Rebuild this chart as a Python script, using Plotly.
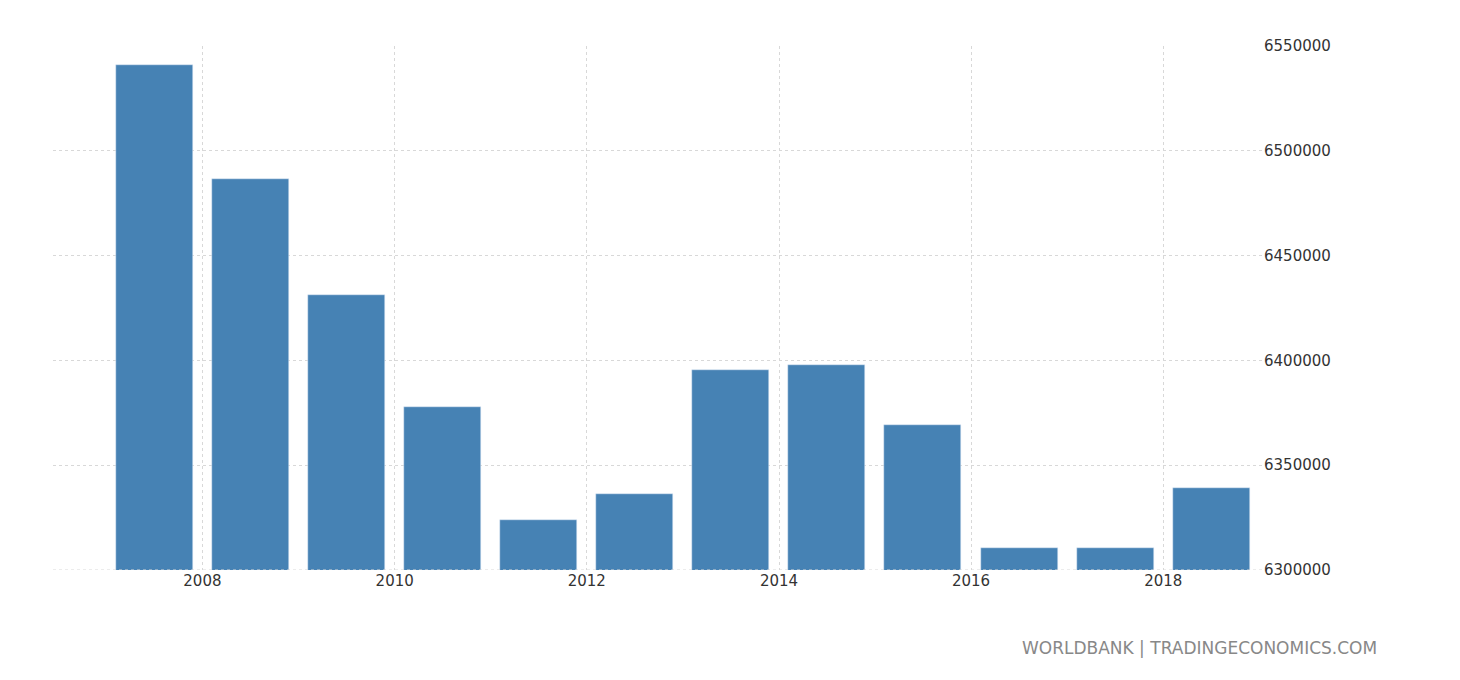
import plotly.graph_objects as go

years = [2007, 2008, 2009, 2010, 2011, 2012, 2013, 2014, 2015, 2016, 2017, 2018]
values = [6540900, 6486500, 6431200, 6377800, 6323900, 6336300,
          6395400, 6397800, 6369200, 6310500, 6310500, 6339100]
tick_years = [2008, 2010, 2012, 2014, 2016, 2018]

# bars sit mid-year, ticks sit on Jan 1
dates = [f"{y}-07-02" for y in years]
year_ms = 365.25 * 86400000

fig = go.Figure(go.Bar(x=dates, y=values, marker_color="#4682B4",
                       width=0.8 * year_ms, hoverinfo="x+y"))

fig.update_layout(
    width=1460, height=680,
    margin=dict(l=45, r=205, t=38, b=118),
    plot_bgcolor="white", paper_bgcolor="white",
    font=dict(family="DejaVu Sans", size=15, color="#333"),
    showlegend=False,
    xaxis=dict(type="date", range=["2006-06-12", "2019-01-15"],
               tickvals=[f"{y}-01-01" for y in tick_years],
               ticktext=[str(y) for y in tick_years],
               showgrid=True, gridcolor="#d8d8d8", griddash="dot",
               showline=False, ticks=""),
    yaxis=dict(side="right", range=[6300000, 6550000], dtick=50000,
               tickformat="d", showgrid=True, gridcolor="#d8d8d8",
               griddash="dot", zeroline=False, ticks="", ticklen=0),
    bargap=0,
)
fig.add_shape(type="line", xref="paper", yref="y", x0=0, x1=1,
              y0=6300000, y1=6300000, line=dict(color="#d8d8d8", dash="dot", width=1))
fig.add_annotation(text="WORLDBANK | TRADINGECONOMICS.COM", xref="paper", yref="paper",
                   x=1.096, y=-0.125, xanchor="right", yanchor="top", showarrow=False,
                   font=dict(size=17, color="#888"))

fig.write_html("out.html")
